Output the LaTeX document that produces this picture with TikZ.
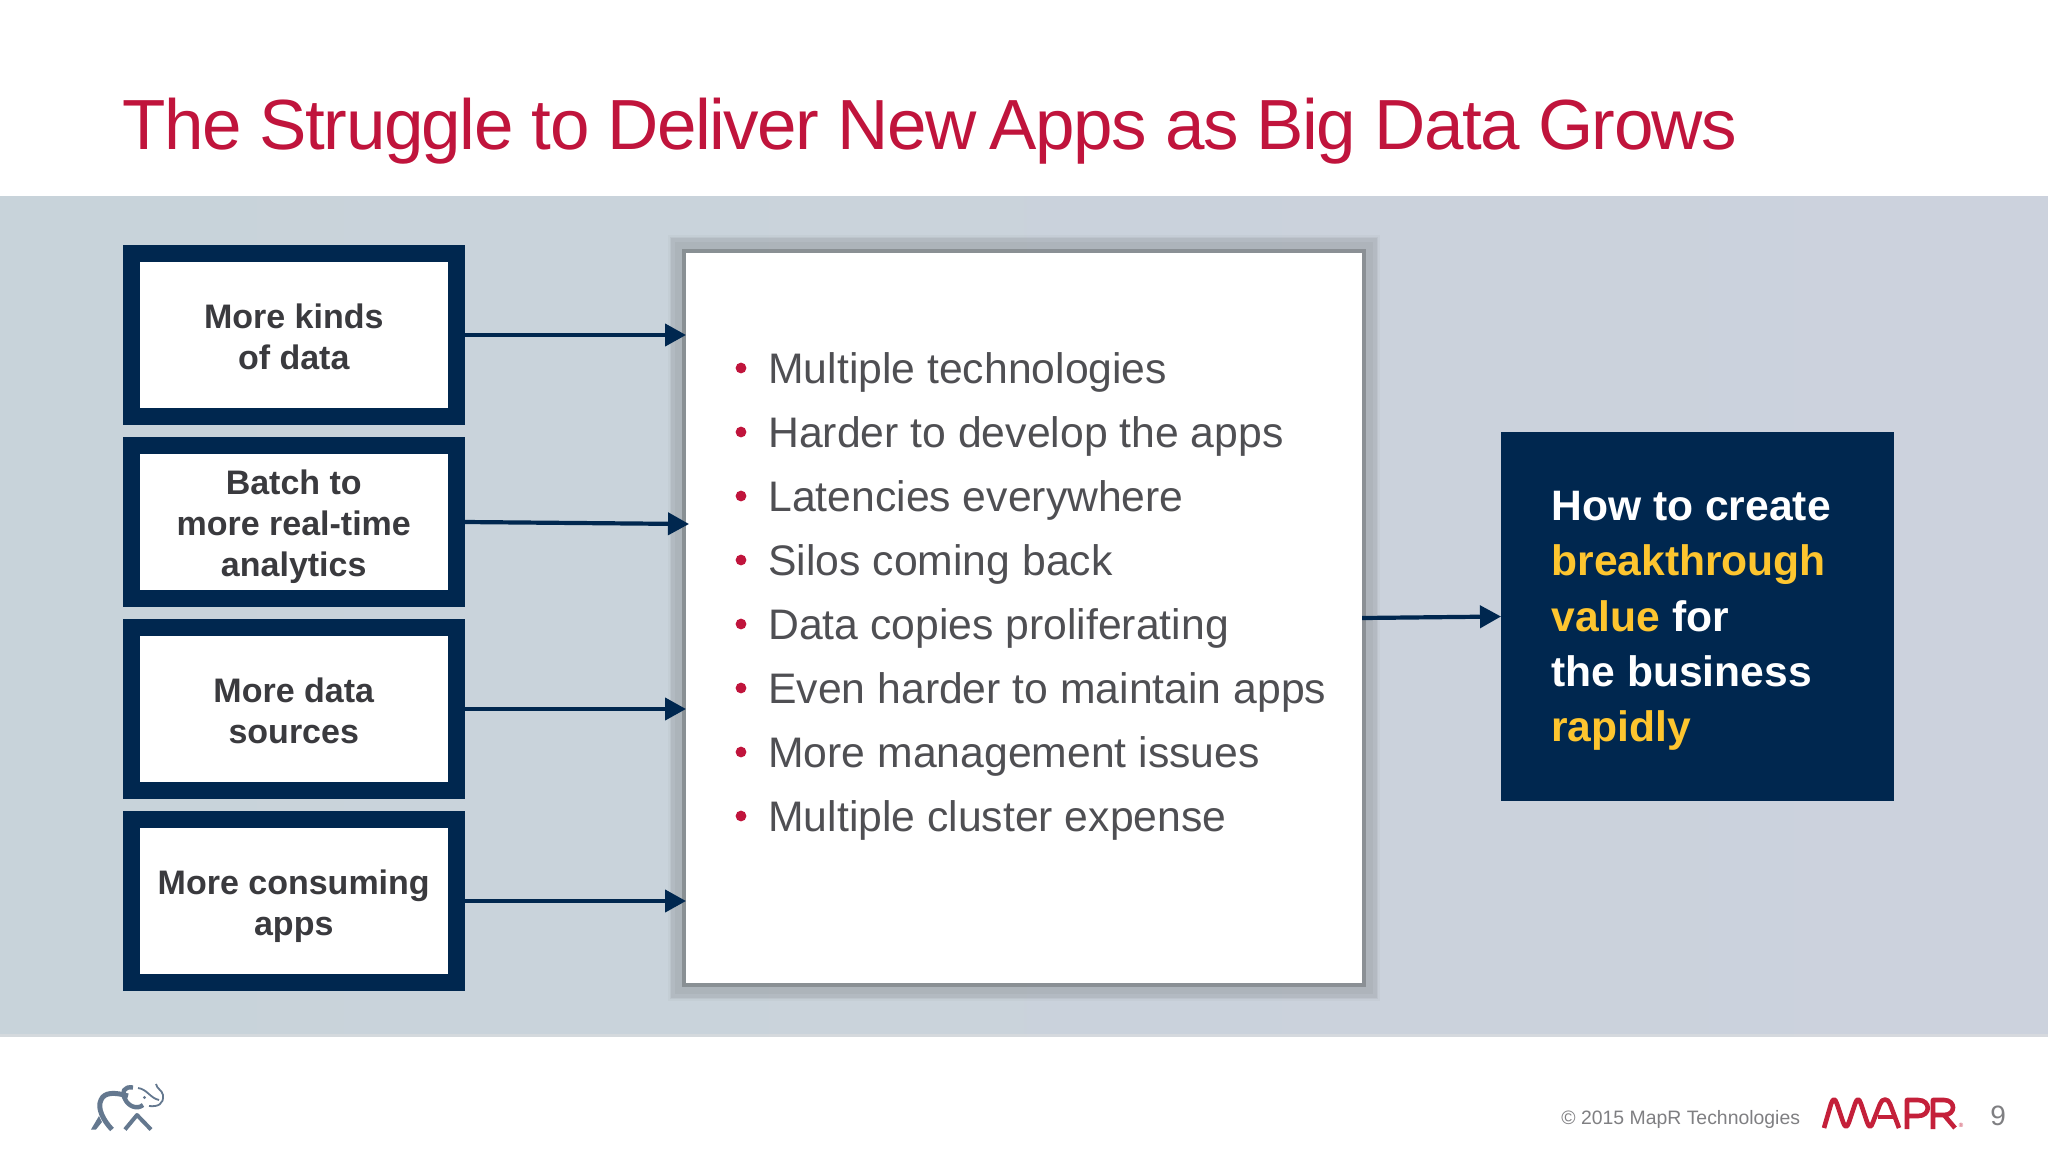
\documentclass[tikz,border=0pt]{standalone}
\usepackage{fontspec}
\setmainfont{Liberation Sans}
\usetikzlibrary{arrows.meta}
\definecolor{navy}{HTML}{00274F}
\definecolor{titlered}{HTML}{C0143C}
\definecolor{bodygrey}{HTML}{4F4F53}
\definecolor{boxtext}{HTML}{3A3A3E}
\definecolor{bandL}{HTML}{C8D3DA}
\definecolor{bandR}{HTML}{CCD2DD}
\definecolor{gold}{HTML}{FDC52F}
\definecolor{footgrey}{HTML}{7F7F82}
\definecolor{logored}{HTML}{C4203A}
\definecolor{elephant}{HTML}{64788F}
\tikzset{
  x=0.5pt,y=-0.5pt,
  outerbox/.style={fill=navy,draw=none,inner sep=0pt,outer sep=0pt,minimum width=171.25pt},
  boxlabel/.style={inner sep=0pt,align=center,text=boxtext,font=\fontsize{17}{20.5}\selectfont\bfseries},
  flow/.style={draw=navy,line width=2.1pt,-{Triangle[length=10.5pt,width=11pt]}},
  bullet/.style={anchor=base west,inner sep=0pt,text=bodygrey,font=\fontsize{21.35}{24}\selectfont},
  dot/.style={circle,fill=titlered,draw=none,minimum size=5.4pt,inner sep=0pt},
  elephantline/.style={draw=elephant,line cap=butt,line join=round},
  logoline/.style={draw=logored,line width=2.3pt,line join=round,line cap=butt},
}
\begin{document}
\begin{tikzpicture}
\useasboundingbox (0,0) rectangle (2048,1152);
\fill[white] (0,0) rectangle (2048,1152);
\shade[left color=bandL,right color=bandR] (0,196) rectangle (2048,1036);
\fill[black!12,opacity=.5] (0,1034) rectangle (2048,1037);
% title
\node[anchor=base west,inner sep=0pt,text=titlered,font=\fontsize{35.5}{40}\selectfont\addfontfeature{LetterSpace=-2.15}] (title) at (122,149) {The Struggle to Deliver New\kern-2.5pt{} Apps as Big Data Grows};
% boxes
\node[outerbox,minimum height=90pt] (b1) at (293.75,335) {};
\node[outerbox,minimum height=85pt] (b2) at (293.75,522) {};
\node[outerbox,minimum height=90pt] (b3) at (293.75,709) {};
\node[outerbox,minimum height=90pt] (b4) at (293.75,901) {};
\fill[white] (139.5,262) rectangle (448,408);
\fill[white] (139.5,454) rectangle (448,590);
\fill[white] (139.5,636) rectangle (448,782);
\fill[white] (139.5,828) rectangle (448,974);
\node[boxlabel] (l1) at (293.75,336.5) {More kinds\\of data};
\node[boxlabel] (l2) at (293.75,526.5) {Batch to\\more real-time\\analytics};
\node[boxlabel] (l3) at (293.75,710.5) {More data\\sources};
\node[boxlabel] (l4) at (293.75,906) {More consuming\\apps};
% panel with soft stepped shadow
\foreach \d/\o in {18/.025,16/.04,15/.05,11/.03,4/.2}{
  \fill[black,opacity=\o] ({686-\d},{253-\d}) rectangle ({1362+\d},{983+\d});
}
\node[fill=white,draw=none,inner sep=0pt,outer sep=0pt,minimum width=338pt,minimum height=365pt] (panel) at (1024,618) {};
% bullets
\foreach \i/\t in {0/Multiple technologies,1/Harder to develop the apps,2/Latencies everywhere,3/Silos coming back,4/Data copies proliferating,5/Even harder to maintain apps,6/More management issues,7/Multiple cluster expense}{
  \node[bullet] (t\i) at (768,{383.5+\i*64}) {\t};
  \node[dot] (d\i) at (741,{368+\i*64}) {};
}
% result box
\node[fill=navy,draw=none,inner sep=0pt,outer sep=0pt,minimum width=196.5pt,minimum height=184.5pt] (res) at (1697.5,616.5) {};
\node[anchor=north west,inner sep=0pt,align=left,text=white,font=\fontsize{21.3}{27.7}\selectfont\bfseries] (restext) at (1551,490.5) {How to create\\\textcolor{gold}{breakthrough}\\\textcolor{gold}{value} for\\the business\\\textcolor{gold}{rapidly}};
% connectors
\draw[flow] (b1.east) -- (panel.west |- b1.east);
\coordinate (p2) at (689,524);
\draw[flow] (b2.east) -- (p2);
\draw[flow] (b3.east) -- (panel.west |- b3.east);
\draw[flow] (b4.east) -- (panel.west |- b4.east);
\coordinate (p5) at (1362,618);
\draw[flow] (p5) -- (res.west);
% footer
\node[anchor=base west,inner sep=0pt,text=footgrey,font=\fontsize{9.7}{11}\selectfont] (copy) at (1561,1124) {© 2015 MapR Technologies};
\node[anchor=base west,inner sep=0pt,text=footgrey,font=\fontsize{14}{16}\selectfont] (page) at (1990,1125) {9};
% elephant
\fill[elephant] (91,1129.5) -- (99,1116) -- (102,1122) -- (96,1129.5) -- cycle;
\draw[elephantline,line width=2.5pt] (112,1129.5) .. controls (103,1120) and (97,1108) .. (101,1100) .. controls (104,1092) and (115,1092) .. (128,1096);
\draw[elephantline,line width=2.2pt] (133,1087.5) .. controls (124,1086) and (121,1092) .. (125,1099) .. controls (128,1106) and (137,1110) .. (143,1105);
\draw[elephantline,line width=2pt] (125,1129.5) -- (137,1115) -- (151,1129.5);
\draw[elephantline,line width=.9pt] (138,1088) .. controls (147,1089) and (150,1098) .. (159,1100);
\draw[elephantline,line width=.9pt] (149,1106) .. controls (158,1107) and (164,1104) .. (163,1095) .. controls (162,1090) and (157,1089) .. (156,1084);
\fill[elephant] (144.5,1097.5) circle (1.6);
% MapR logo
\draw[logoline] (1824,1128) -- (1831,1104) .. controls (1833,1098) and (1835,1098) .. (1837,1104) -- (1843,1122) .. controls (1845,1128) and (1847,1128) .. (1849,1122) -- (1855,1104) .. controls (1857,1098) and (1859,1098) .. (1861,1104) -- (1867,1122) .. controls (1869,1128) and (1871,1128) .. (1873,1122) -- (1880,1104) .. controls (1882,1098) and (1888,1098) .. (1890,1104) -- (1899,1128);
\draw[logoline] (1878,1117) -- (1893,1117);
\draw[logoline] (1907,1129) -- (1907,1100) -- (1918,1100) .. controls (1931,1100) and (1931,1116) .. (1918,1116) -- (1907,1116);
\draw[logoline] (1933,1129) -- (1933,1100) -- (1944,1100) .. controls (1956,1100) and (1956,1115) .. (1944,1115) -- (1933,1115);
\draw[logoline] (1944,1115) -- (1955,1128);
\node[inner sep=0pt,text=logored,font=\fontsize{3}{3}\selectfont] (reg) at (1961,1125) {®};
\end{tikzpicture}
\end{document}
